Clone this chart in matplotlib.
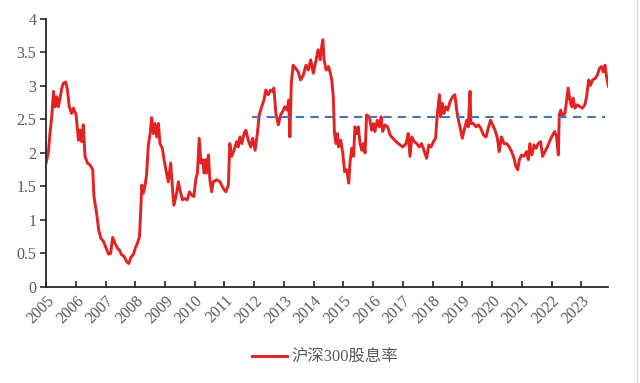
import matplotlib
matplotlib.use("Agg")
import matplotlib.pyplot as plt
from matplotlib.lines import Line2D

# dividend yield of CSI 300 (%), x as fractional year
years = [
  2005.00, 2005.08, 2005.13, 2005.19, 2005.25, 2005.30, 2005.36, 2005.41, 2005.47, 2005.53,
  2005.58, 2005.66, 2005.72, 2005.78, 2005.86, 2005.92, 2006.01, 2006.09, 2006.14, 2006.20,
  2006.25, 2006.31, 2006.39, 2006.48, 2006.57, 2006.61, 2006.70, 2006.77, 2006.84, 2006.93,
  2007.02, 2007.10, 2007.17, 2007.24, 2007.32, 2007.40, 2007.47, 2007.54, 2007.62, 2007.71,
  2007.78, 2007.85, 2007.94, 2008.00, 2008.07, 2008.14, 2008.18, 2008.22, 2008.27, 2008.33,
  2008.38, 2008.44, 2008.50, 2008.55, 2008.61, 2008.66, 2008.72, 2008.78, 2008.83, 2008.91,
  2008.97, 2009.03, 2009.11, 2009.19, 2009.26, 2009.30, 2009.39, 2009.45, 2009.50, 2009.59,
  2009.67, 2009.75, 2009.82, 2009.90, 2009.97, 2010.04, 2010.09, 2010.15, 2010.21, 2010.27,
  2010.31, 2010.37, 2010.40, 2010.46, 2010.51, 2010.57, 2010.62, 2010.74, 2010.85, 2010.96,
  2011.05, 2011.13, 2011.18, 2011.24, 2011.32, 2011.41, 2011.46, 2011.52, 2011.58, 2011.66,
  2011.72, 2011.80, 2011.88, 2011.95, 2012.03, 2012.10, 2012.17, 2012.25, 2012.33, 2012.39,
  2012.47, 2012.55, 2012.62, 2012.66, 2012.73, 2012.81, 2012.89, 2012.96, 2013.03, 2013.11,
  2013.16, 2013.20, 2013.25, 2013.31, 2013.40, 2013.48, 2013.56, 2013.65, 2013.74, 2013.82,
  2013.90, 2013.99, 2014.08, 2014.15, 2014.22, 2014.27, 2014.31, 2014.35, 2014.42, 2014.50,
  2014.55, 2014.61, 2014.66, 2014.70, 2014.75, 2014.80, 2014.84, 2014.91, 2014.98, 2015.04,
  2015.11, 2015.18, 2015.22, 2015.28, 2015.34, 2015.39, 2015.45, 2015.50, 2015.56, 2015.62,
  2015.67, 2015.73, 2015.78, 2015.87, 2015.95, 2016.01, 2016.06, 2016.14, 2016.21, 2016.27,
  2016.32, 2016.40, 2016.49, 2016.57, 2016.66, 2016.77, 2016.88, 2016.99, 2017.11, 2017.18,
  2017.24, 2017.30, 2017.38, 2017.47, 2017.55, 2017.63, 2017.71, 2017.80, 2017.87, 2017.95,
  2018.03, 2018.10, 2018.16, 2018.23, 2018.27, 2018.33, 2018.38, 2018.45, 2018.51, 2018.59,
  2018.68, 2018.75, 2018.81, 2018.87, 2018.92, 2019.00, 2019.06, 2019.15, 2019.20, 2019.26,
  2019.29, 2019.37, 2019.46, 2019.54, 2019.62, 2019.71, 2019.80, 2019.87, 2019.95, 2020.02,
  2020.10, 2020.18, 2020.24, 2020.32, 2020.40, 2020.49, 2020.58, 2020.66, 2020.74, 2020.80,
  2020.86, 2020.92, 2020.99, 2021.07, 2021.16, 2021.22, 2021.27, 2021.34, 2021.41, 2021.48,
  2021.55, 2021.63, 2021.70, 2021.78, 2021.86, 2021.95, 2022.04, 2022.11, 2022.17, 2022.23,
  2022.26, 2022.31, 2022.37, 2022.45, 2022.51, 2022.56, 2022.62, 2022.68, 2022.73, 2022.79,
  2022.87, 2022.96, 2023.04, 2023.12, 2023.18, 2023.25, 2023.31, 2023.38, 2023.46, 2023.54,
  2023.61, 2023.68, 2023.74, 2023.80, 2023.85, 2023.91,
]
yield_pct = [
  1.85, 2.02, 2.29, 2.54, 2.92, 2.69, 2.84, 2.69, 2.82, 2.97,
  3.04, 3.06, 2.94, 2.69, 2.59, 2.67, 2.57, 2.19, 2.34, 2.17,
  2.42, 1.95, 1.85, 1.82, 1.75, 1.35, 1.10, 0.85, 0.73, 0.68,
  0.58, 0.49, 0.50, 0.74, 0.65, 0.58, 0.55, 0.48, 0.46, 0.38,
  0.35, 0.44, 0.49, 0.58, 0.65, 0.75, 1.10, 1.52, 1.40, 1.52,
  1.67, 2.12, 2.29, 2.53, 2.29, 2.44, 2.24, 2.44, 2.14, 2.07,
  1.90, 1.75, 1.57, 1.85, 1.42, 1.22, 1.40, 1.57, 1.45, 1.30,
  1.32, 1.30, 1.42, 1.37, 1.35, 1.62, 1.70, 2.22, 1.85, 1.90,
  1.70, 1.90, 1.70, 1.97, 1.60, 1.42, 1.57, 1.60, 1.57, 1.47,
  1.42, 1.52, 2.14, 1.95, 2.04, 2.17, 2.09, 2.24, 2.14, 2.29,
  2.34, 2.19, 2.09, 2.22, 2.04, 2.27, 2.57, 2.69, 2.79, 2.94,
  2.87, 2.94, 2.92, 2.97, 2.59, 2.42, 2.57, 2.62, 2.69, 2.64,
  2.79, 2.24, 3.06, 3.31, 3.26, 3.21, 3.09, 3.16, 3.31, 3.24,
  3.39, 3.19, 3.39, 3.54, 3.39, 3.59, 3.69, 3.39, 3.24, 3.29,
  3.21, 3.09, 2.84, 2.29, 2.14, 2.29, 2.09, 2.19, 2.00, 1.72,
  1.75, 1.55, 1.85, 2.07, 1.95, 2.39, 2.29, 2.39, 2.14, 2.04,
  2.14, 2.00, 2.57, 2.54, 2.34, 2.44, 2.32, 2.49, 2.39, 2.54,
  2.32, 2.42, 2.39, 2.27, 2.22, 2.17, 2.13, 2.09, 2.14, 2.29,
  1.95, 2.24, 2.17, 2.14, 2.09, 2.14, 2.04, 1.92, 2.12, 2.09,
  2.17, 2.22, 2.59, 2.87, 2.54, 2.74, 2.59, 2.69, 2.64, 2.77,
  2.84, 2.87, 2.64, 2.49, 2.39, 2.22, 2.34, 2.49, 2.39, 2.92,
  2.44, 2.44, 2.39, 2.42, 2.37, 2.27, 2.24, 2.37, 2.49, 2.42,
  2.34, 2.22, 2.02, 2.24, 2.14, 2.14, 2.09, 2.02, 1.92, 1.80,
  1.75, 1.90, 1.97, 1.95, 2.02, 1.90, 2.14, 1.97, 2.12, 2.07,
  2.14, 2.17, 1.95, 2.02, 2.09, 2.19, 2.27, 2.32, 2.24, 1.97,
  2.57, 2.64, 2.54, 2.59, 2.79, 2.97, 2.79, 2.69, 2.82, 2.67,
  2.72, 2.69, 2.67, 2.72, 2.84, 3.09, 3.01, 3.09, 3.11, 3.16,
  3.26, 3.29, 3.21, 3.31, 3.14, 3.00,
]
# average since end of 2011
avg_years = [2011.92, 2023.80]
avg_value = [2.53, 2.53]

year_ticks = list(range(2005, 2024))
y_ticks = [0, 0.5, 1, 1.5, 2, 2.5, 3, 3.5, 4]
y_labels = ["0", "0.5", "1", "1.5", "2", "2.5", "3", "3.5", "4"]

gray = "#595959"
serif = ["Liberation Serif", "Noto Sans CJK SC"]

fig = plt.figure(figsize=(6.4, 3.83), dpi=100)
ax = fig.add_axes([0.072, 0.2507, 0.878, 0.6997])

ax.plot(years, yield_pct, color="#E42222", lw=2.1, label="沪深300股息率")
ax.plot(avg_years, avg_value, color="#4472C4", lw=1.5, ls=(0, (4, 3)))

ax.set_xlim(2005, 2023.9)
ax.set_ylim(0, 4)
ax.set_xticks(year_ticks)
ax.set_xticklabels([str(y) for y in year_ticks], rotation=45, ha="right", va="top",
                   rotation_mode="anchor", family=serif, color=gray, fontsize=11.5)
ax.set_yticks(y_ticks)
ax.set_yticklabels(y_labels, family=serif, color=gray, fontsize=11.5)

for side in ["top", "right"]:
  ax.spines[side].set_visible(False)
for side in ["left", "bottom"]:
  ax.spines[side].set_color("#262626")
  ax.spines[side].set_linewidth(1.3)
ax.tick_params(axis="x", direction="in", length=4, width=1.2, color="#262626", pad=4)
ax.tick_params(axis="y", direction="out", length=4, width=1.2, color="#262626", pad=3)

fig.legend(loc="center", bbox_to_anchor=(0.508, 0.066), frameon=False,
           handlelength=2.1, handletextpad=0.3,
           prop={"family": serif, "size": 11.8}, labelcolor=gray)

# thin frame edge at the right side of the picture
fig.add_artist(Line2D([0.9955, 0.9955], [0, 1], transform=fig.transFigure, color="#d9d9d9", lw=1))

fig.savefig("out.png", dpi=100, facecolor="white")
